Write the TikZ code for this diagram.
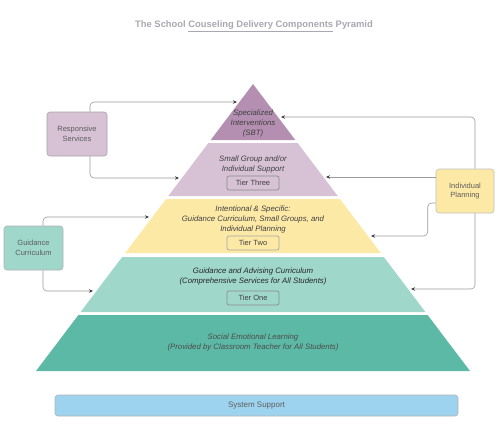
\documentclass[tikz,border=0pt]{standalone}
\usepackage{fontspec}
\setmainfont{Liberation Sans}
\usetikzlibrary{arrows.meta,calc}
\definecolor{sbtc}{HTML}{B48FB1}
\definecolor{tthree}{HTML}{D6C1D5}
\definecolor{ttwo}{HTML}{FDE9A6}
\definecolor{tone}{HTML}{9FD7CB}
\definecolor{selc}{HTML}{5CB9A5}
\definecolor{sysc}{HTML}{9ED3F0}
\definecolor{connc}{HTML}{9A9A9A}
\definecolor{txt}{HTML}{404040}
\definecolor{titlec}{HTML}{A8A8B0}
\begin{document}
\begin{tikzpicture}[x=1pt,y=-1pt,
  bandtext/.style={font=\fontsize{7.8}{10}\selectfont\itshape, text=txt, align=center, inner sep=0pt},
  tierbox/.style={draw=#1, rounded corners=2pt, minimum width=52pt, minimum height=14pt, font=\fontsize{7.5}{9}\selectfont, text=txt, line width=0.7pt, inner sep=0pt},
  sidebox/.style={rounded corners=3pt, line width=0.6pt, align=center, font=\fontsize{7.5}{9.5}\selectfont, text=txt!85, inner sep=0pt},
  conn/.style={draw=connc, line width=0.6pt, rounded corners=4pt, -{Stealth[length=4pt,width=3.5pt,color=black!75]}}]
\useasboundingbox (0,0) rectangle (500,429);
% title
\node[font=\fontsize{9.4}{11}\selectfont\bfseries, text=titlec] (title) at (254,26) {The School \underline{Couseling Delivery Components} Pyramid};
% pyramid bands
\fill[sbtc] (253,84) -- (295.3,140) -- (210.7,140) -- cycle;
\fill[tthree] (208.4,143) -- (297.6,143) -- (337.7,196) -- (168.3,196) -- cycle;
\fill[ttwo] (166.1,199) -- (339.9,199) -- (380.8,253) -- (125.2,253) -- cycle;
\fill[tone] (122.2,257) -- (383.8,257) -- (425.4,312) -- (80.6,312) -- cycle;
\fill[selc] (78.4,315) -- (427.6,315) -- (470,371) -- (36,371) -- cycle;
% edge coordinates
\coordinate (sbtL) at (237,102);
\coordinate (sbtR) at (281,117);
\coordinate (t3L) at (179,178);
\coordinate (t3R) at (326,177);
\coordinate (t2L) at (149,217);
\coordinate (t2R) at (371,236);
\coordinate (t1L) at (93,291);
\coordinate (t1R) at (411,289);
% band texts
\node[bandtext] (sbt) at (253,123) {Specialized\\Interventions\\(SBT)};
\node[bandtext] (t3) at (253,164.5) {Small Group and/or\\Individual Support};
\node[tierbox=black!45] (t3b) at (253,183) {Tier Three};
\node[bandtext] (t2) at (253,219) {Intentional \& Specific:\\Guidance Curriculum, Small Groups, and\\Individual Planning};
\node[tierbox=black!35] (t2b) at (253,243) {Tier Two};
\node[bandtext, text=black!85] (t1) at (253,276.5) {Guidance and Advising Curriculum\\(Comprehensive Services for All Students)};
\node[tierbox=black!45] (t1b) at (253,298) {Tier One};
\node[bandtext, text=black!70] (sel) at (253,342) {Social Emotional Learning\\(Provided by Classroom Teacher for All Students)};
% side boxes
\node[sidebox, fill=tthree, draw=black!35, minimum width=60pt, minimum height=44pt] (resp) at (77,134) {Responsive\\Services};
\node[sidebox, fill=tone, draw=black!30, minimum width=59pt, minimum height=44pt] (gc) at (33.5,248) {Guidance\\Curriculum};
\node[sidebox, fill=ttwo, draw=black!25, minimum width=58pt, minimum height=44pt] (ip) at (465,191) {Individual\\Planning};
\node[sidebox, fill=sysc, draw=black!30, minimum width=403pt, minimum height=21pt, font=\fontsize{8}{10}\selectfont] (sys) at (256.5,405.5) {System Support};
% connectors
\draw[conn] ([xshift=13pt]resp.north) |- (sbtL);
\draw[conn] ([xshift=13pt]resp.south) |- (t3L);
\draw[conn] ([xshift=10pt]ip.north) |- (sbtR);
\draw[conn] ([yshift=14pt]ip.west) -- (t3R);
\draw[conn] ([yshift=-12pt]ip.west) -- ++(-8,0) |- (t2R);
\draw[conn] ([xshift=10pt]ip.south) |- (t1R);
\draw[conn] ([xshift=9.5pt]gc.north) |- (t2L);
\draw[conn] ([xshift=9.5pt]gc.south) |- (t1L);
\end{tikzpicture}
\end{document}
